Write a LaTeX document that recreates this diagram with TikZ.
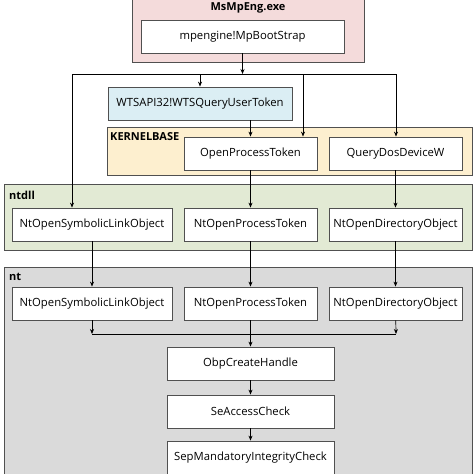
\documentclass[tikz,border=0pt]{standalone}
\usepackage{fontspec}
\setmainfont{Open Sans}
\usetikzlibrary{arrows.meta,positioning,calc}
\definecolor{edge}{HTML}{505050}
\definecolor{rose}{HTML}{F4DBDB}
\definecolor{ice}{HTML}{DBEEF4}
\definecolor{cream}{HTML}{FDEFCF}
\definecolor{sage}{HTML}{E2EAD4}
\definecolor{ash}{HTML}{DADADA}
\tikzset{
  fn/.style={rectangle, draw=edge, fill=white, line width=0.8pt, minimum height=33pt,
             inner sep=0pt, align=center, font=\fontsize{11.3}{13}\selectfont},
  group/.style={rectangle, draw=edge, line width=0.8pt},
  grouplbl/.style={font=\fontsize{11}{13}\selectfont\bfseries, anchor=west, inner sep=0pt},
  flow/.style={-{Stealth[length=5pt,width=4pt]}, draw=black, line width=0.7pt},
}
\begin{document}
\begin{tikzpicture}[x=1pt,y=-1pt]
\useasboundingbox (0,0) rectangle (474,474);
\clip (0,0) rectangle (474,474);
% module frames
\draw[group, fill=rose]  (132,-1)  rectangle (364,62);
\draw[group, fill=cream] (107,127) rectangle (472,175);
\draw[group, fill=sage]  (4,184)   rectangle (472,250);
\draw[group, fill=ash]   (4,267)   rectangle (472,490);
\node[grouplbl, anchor=center] (lexe) at (248,8)   {MsMpEng.exe};
\node[grouplbl] (lkb) at (110,137) {KERNELBASE};
\node[grouplbl] (lntdll) at (9,195) {ntdll};
\node[grouplbl] (lnt) at (9,277) {nt};
% functions
\node[fn, minimum width=203pt] (boot) at (242.5,36.5) {mpengine!MpBootStrap};
\node[fn, fill=ice, minimum width=184pt] (wts) at (200,103.5) {WTSAPI32!WTSQueryUserToken};
\node[fn, minimum width=133pt] (opt) at (250.5,153.5) {OpenProcessToken};
\node[fn, minimum width=133pt] (qdd) at (395.5,153.5) {QueryDosDeviceW};
\node[fn, minimum width=160pt] (dsym) at (92,224.5)    {NtOpenSymbolicLinkObject};
\node[fn, minimum width=133pt] (dtok) at (250.5,224.5) {NtOpenProcessToken};
\node[fn, minimum width=133pt] (ddir) at (395.5,224.5) {NtOpenDirectoryObject};
\node[fn, minimum width=160pt] (ksym) at (92,303.5)    {NtOpenSymbolicLinkObject};
\node[fn, minimum width=133pt] (ktok) at (250.5,303.5) {NtOpenProcessToken};
\node[fn, minimum width=133pt] (kdir) at (395.5,303.5) {NtOpenDirectoryObject};
\node[fn, minimum width=167pt] (obp) at (250.5,363.5) {ObpCreateHandle};
\node[fn, minimum width=167pt] (seac) at (250.5,411.5) {SeAccessCheck};
\node[fn, minimum width=167pt] (smic) at (250.5,457.5) {SepMandatoryIntegrityCheck};
% bus lines
\coordinate (busL) at (72,74);
\coordinate (busR) at (396,74);
\coordinate (busO) at (303,74);
\coordinate (joinL) at (92,334);
\coordinate (joinR) at (396,334);
\draw[flow] (boot.south) -- (boot.south |- busL);
\draw[line width=0.7pt] (busL) -- (busR);
\draw[flow] (busL) -- (dsym.north -| busL);
\draw[flow] (wts.north |- busL) -- (wts.north);
\draw[flow] (busO) -- (opt.north -| busO);
\draw[flow] (busR) -- (qdd.north -| busR);
\draw[flow] (wts.south -| opt.north) -- (opt.north);
\draw[flow] (opt) -- (dtok);
\draw[flow] (qdd) -- (ddir);
\draw[flow] (dsym) -- (ksym);
\draw[flow] (dtok) -- (ktok);
\draw[flow] (ddir) -- (kdir);
\draw[flow] (ksym) -- (joinL);
\draw[flow] (kdir) -- (joinR);
\draw[line width=0.7pt] (joinL) -- (joinR);
\draw[flow] (ktok) -- (obp);
\draw[flow] (obp) -- (seac);
\draw[flow] (seac) -- (smic);
\end{tikzpicture}
\end{document}
